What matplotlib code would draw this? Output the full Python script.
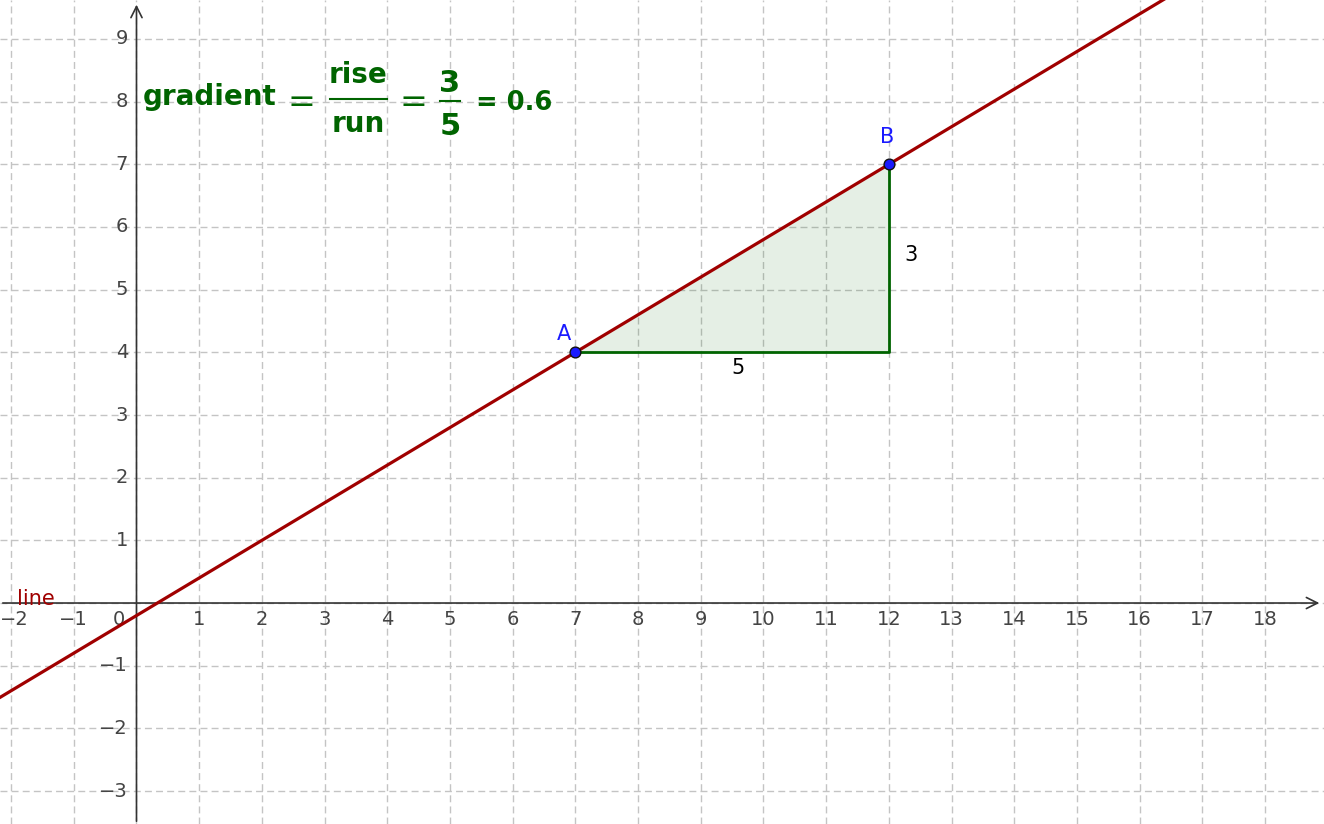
import matplotlib.pyplot as plt
from matplotlib.lines import Line2D
import numpy as np

# datos
point_names = ['A', 'B']
point_x = [7, 12]
point_y = [4, 7]
x_ticks = list(range(-2, 19))
y_ticks = list(range(-3, 10))
rise, run = 3, 5
slope = rise / run
intercept = point_y[0] - slope * point_x[0]

W, H = 1324, 824
fig = plt.figure(figsize=(W / 100, H / 100), dpi=100)
ax = fig.add_axes([0, 0, 1, 1])
ax.set_xlim(-2.177, 18.94)
ax.set_ylim(-3.526, 9.622)
ax.axis('off')


def px(x, y):
    # pixel (desde arriba a la izquierda) -> fraccion de figura
    return x / W, 1 - y / H


# cuadricula
for xt in x_ticks:
    ax.axvline(xt, color='#c4c4c4', lw=1, ls=(0, (5, 3)), zorder=0)
for yt in y_ticks:
    ax.axhline(yt, color='#c4c4c4', lw=1, ls=(0, (5, 3)), zorder=0)

# ejes con flechas
xl, yl = ax.get_xlim(), ax.get_ylim()
ax.annotate('', xy=(xl[1] - 0.03, 0), xytext=(xl[0], 0),
            arrowprops=dict(arrowstyle='->', color='#333333', lw=1.2, mutation_scale=20), zorder=1)
ax.annotate('', xy=(0, yl[1] - 0.03), xytext=(0, yl[0]),
            arrowprops=dict(arrowstyle='->', color='#333333', lw=1.2, mutation_scale=20), zorder=1)

# etiquetas de los ejes
for xt in x_ticks:
    lbl = str(xt).replace('-', '\u2212')
    dx = -13 if xt == 0 else 0
    if xt == x_ticks[0]:
        dx = 2
    ax.annotate(lbl, (xt, 0), xytext=(dx, -5), textcoords='offset points',
                ha='center', va='top', fontsize=14, color='#444444')
for yt in y_ticks:
    if yt == 0:
        continue
    lbl = str(yt).replace('-', '\u2212')
    ax.annotate(lbl, (0, yt), xytext=(-6, 0), textcoords='offset points',
                ha='right', va='center', fontsize=14, color='#444444')

# recta
xs = np.array([xl[0], xl[1]])
ax.plot(xs, slope * xs + intercept, color='#a00000', lw=2.3, zorder=3)
ax.text(-1.906, -0.03, 'line', color='#a00000', fontsize=15, ha='left', va='baseline')

# triangulo
tri_x = [point_x[0], point_x[1], point_x[1]]
tri_y = [point_y[0], point_y[0], point_y[1]]
ax.fill(tri_x, tri_y, color='#006400', alpha=0.1, lw=0, zorder=2)
ax.plot(tri_x, tri_y, color='#006400', lw=2, zorder=2)
ax.text((point_x[0] + point_x[1]) / 2 + 0.1, point_y[0] - 0.25, str(run),
        fontsize=15, ha='center', va='center', color='black')
ax.text(point_x[1] + 0.35, (point_y[0] + point_y[1]) / 2 + 0.05, str(rise),
        fontsize=15, ha='center', va='center', color='black')

# puntos
ax.scatter(point_x, point_y, s=60, color='#1a1aff', edgecolor='#111111', lw=1, zorder=5)
ax.text(point_x[0] - 0.18, point_y[0] + 0.3, point_names[0], color='#1a1aff', fontsize=15,
        ha='center', va='center')
ax.text(point_x[1] - 0.02, point_y[1] + 0.44, point_names[1], color='#1a1aff', fontsize=15,
        ha='center', va='center')

# formula: gradient = rise/run = 3/5 = 0.6
green = '#006400'
bold = dict(color=green, fontsize=20, fontweight='bold')
fig.text(*px(143, 105), 'gradient', ha='left', va='baseline', **bold)
fig.text(*px(301, 103), '=', ha='center', va='center', color=green, fontsize=24)
fig.text(*px(358, 83), 'rise', ha='center', va='baseline', **bold)
fig.text(*px(358, 132), 'run', ha='center', va='baseline', **bold)
fig.add_artist(Line2D([px(330, 0)[0], px(387, 0)[0]], [px(0, 99)[1]] * 2,
                      color=green, lw=1.5, transform=fig.transFigure))
fig.text(*px(413, 103), '=', ha='center', va='center', color=green, fontsize=24)
fig.text(*px(450, 92), str(rise), ha='center', va='baseline', color=green, fontsize=22,
         fontweight='bold')
fig.text(*px(450, 135), str(run), ha='center', va='baseline', color=green, fontsize=22,
         fontweight='bold')
fig.add_artist(Line2D([px(440, 0)[0], px(460, 0)[0]], [px(0, 101)[1]] * 2,
                      color=green, lw=1.5, transform=fig.transFigure))
fig.text(*px(476, 110), '= ' + str(rise / run), ha='left', va='baseline', color=green,
         fontsize=18.5, fontweight='bold')

fig.savefig('out.png', dpi=100)
